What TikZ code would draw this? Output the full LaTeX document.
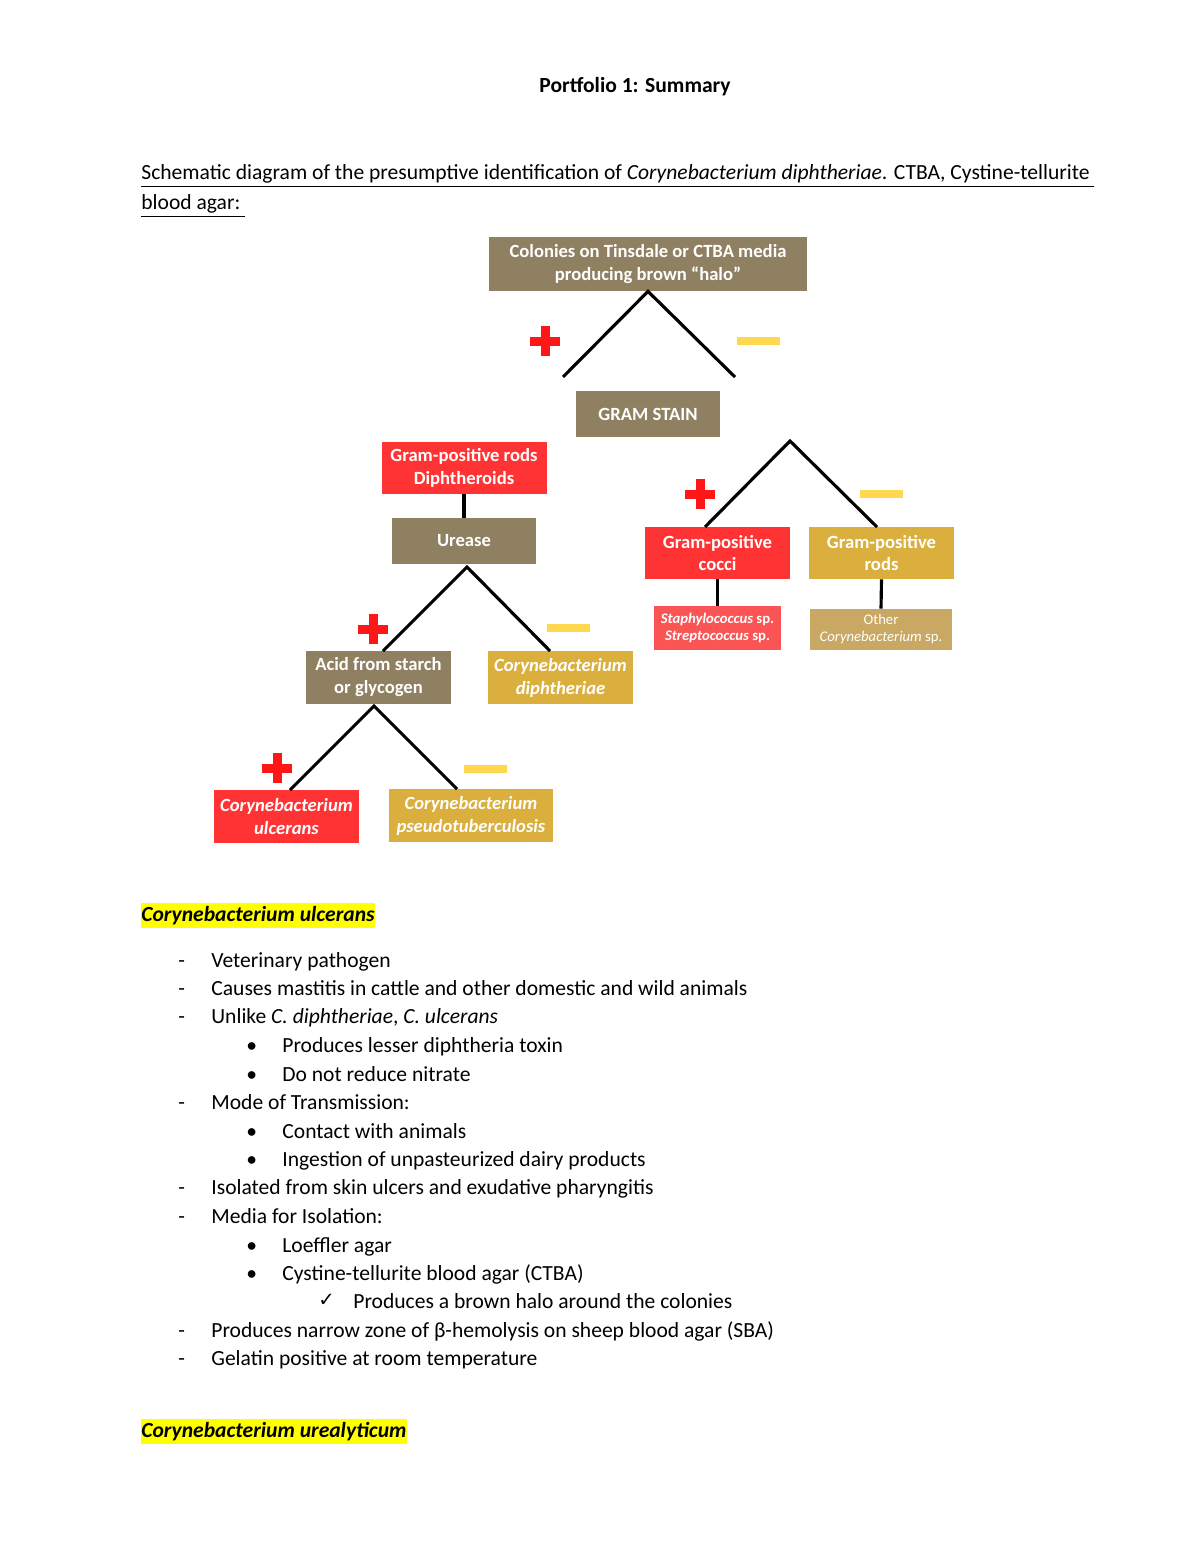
\documentclass[tikz,border=0pt]{standalone}
\usepackage{fontspec}
\setmainfont{Carlito}
\newfontfamily\symfont{DejaVu Sans}
\definecolor{boxbrown}{RGB}{144,128,98}
\definecolor{boxred}{RGB}{255,51,51}
\definecolor{boxgold}{RGB}{218,175,62}
\definecolor{lightred}{RGB}{250,84,84}
\definecolor{lightgold}{RGB}{200,168,98}
\definecolor{plusred}{RGB}{255,22,22}
\definecolor{minusyellow}{RGB}{255,216,80}
\definecolor{hlyellow}{RGB}{255,255,0}
\begin{document}
\begin{tikzpicture}[x=0.51pt,y=-0.51pt,
  box/.style n args={3}{rectangle, fill=#1, text=white, minimum width=#2*0.51pt, minimum height=#3*0.51pt, inner sep=0pt, align=center, font=\fontsize{9.5}{11.7}\selectfont\bfseries},
  smallbox/.style n args={3}{rectangle, fill=#1, text=white, minimum width=#2*0.51pt, minimum height=#3*0.51pt, inner sep=0pt, align=center, font=\fontsize{7.5}{8.7}\selectfont},
  branch/.style={line width=1.6pt, black},
  plusmark/.pic={\fill[plusred] (-15,-4.5) rectangle (15,4.5); \fill[plusred] (-4.5,-15) rectangle (4.5,15);},
  minusmark/.pic={\fill[minusyellow] (-21.5,-4) rectangle (21.5,4);},
  body/.style={anchor=base west, inner sep=0pt, font=\fontsize{11}{13}\selectfont},
  heading/.style={anchor=base west, inner sep=0pt, fill=hlyellow, text height=9pt, text depth=3.75pt, font=\fontsize{11}{13}\selectfont\bfseries\itshape},
]
\fill[white] (0,0) rectangle (1200,1553);
\useasboundingbox (0,0) rectangle (1200,1553);

% ---- header text ----
\node[anchor=base, inner sep=0pt, font=\fontsize{11}{13}\selectfont\bfseries] (title) at (635,93) {Portfolio 1: Summary};
\node[body] (sub1) at (141,180) {\underline{Schematic diagram of the presumptive identification of \textit{Corynebacterium diphtheriae}. CTBA, Cystine-tellurite\ }};
\node[body] (sub2) at (141,210) {\underline{blood agar:\ }};

% ---- boxes ----
\node[box={boxbrown}{318}{54}] (col) at (648,264) {Colonies on Tinsdale or CTBA media\\producing brown “halo”};
\node[box={boxbrown}{144}{46}] (gram) at (648,414) {GRAM STAIN};
\node[box={boxred}{165}{52}] (diph) at (464,468) {Gram-positive rods\\Diphtheroids};
\node[box={boxbrown}{144}{46}] (urease) at (464,541) {Urease};
\node[box={boxred}{145}{52}] (cocci) at (717.5,553) {Gram-positive\\cocci};
\node[box={boxgold}{145}{52}] (rods) at (881.5,553) {Gram-positive\\rods};
\node[smallbox={lightred}{127}{44}, font=\fontsize{7.5}{8.7}\selectfont\bfseries] (staph) at (717.5,628) {\textit{Staphylococcus} sp.\\\textit{Streptococcus} sp.};
\node[smallbox={lightgold}{142}{41}] (other) at (881,629.5) {Other\\\textit{Corynebacterium} sp.};
\node[box={boxbrown}{145}{53}] (acid) at (378.5,677.5) {Acid from starch\\or glycogen};
\node[box={boxgold}{145}{53}] (cdiph) at (560.5,677.5) {\textit{Corynebacterium}\\\textit{diphtheriae}};
\node[box={boxred}{145}{53}] (ulc) at (286.5,816.5) {\textit{Corynebacterium}\\\textit{ulcerans}};
\node[box={boxgold}{164}{53}] (pseudo) at (471,815.5) {\textit{Corynebacterium}\\\textit{pseudotuberculosis}};

% ---- branch points ----
\coordinate (e1l) at (563,377);
\coordinate (e1r) at (735,377);
\coordinate (g2) at (790,441);
\coordinate (e2l) at (705,527);
\coordinate (e2r) at (877,527);
\coordinate (u3) at (467,567);
\coordinate (e3l) at (383,651);
\coordinate (e3r) at (550,651);
\coordinate (a4) at (374,706);
\coordinate (e4l) at (290,790);
\coordinate (e4r) at (457,789);

\draw[branch] (e1l) -- (col.south) -- (e1r);
\draw[branch] (e2l) -- (g2) -- (e2r);
\draw[branch] (diph.south) -- (urease.north);
\draw[branch] (cocci.south) -- (staph.north);
\draw[branch] (rods.south) -- (other.north);
\draw[branch] (e3l) -- (u3) -- (e3r);
\draw[branch] (e4l) -- (a4) -- (e4r);

% ---- signs ----
\pic at (545,341) {plusmark};
\pic at (758,341) {minusmark};
\pic at (700,494) {plusmark};
\pic at (881,494) {minusmark};
\pic at (373,629) {plusmark};
\pic at (568,628) {minusmark};
\pic at (277,768) {plusmark};
\pic at (485,769) {minusmark};

% ---- notes ----
\node[heading] (h1) at (141,921) {Corynebacterium ulcerans};

\node[body] (m1) at (178,967) {-};
\node[body] (t1) at (211,967) {Veterinary pathogen};
\node[body] (m2) at (178,995) {-};
\node[body] (t2) at (211,995) {Causes mastitis in cattle and other domestic and wild animals};
\node[body] (m3) at (178,1023) {-};
\node[body] (t3) at (211,1023) {Unlike \textit{C. diphtheriae}, \textit{C. ulcerans}};
\node[body] (m4) at (246,1052) {\textbullet};
\node[body] (t4) at (282,1052) {Produces lesser diphtheria toxin};
\node[body] (m5) at (246,1081) {\textbullet};
\node[body] (t5) at (282,1081) {Do not reduce nitrate};
\node[body] (m6) at (178,1109) {-};
\node[body] (t6) at (211,1109) {Mode of Transmission:};
\node[body] (m7) at (246,1138) {\textbullet};
\node[body] (t7) at (282,1138) {Contact with animals};
\node[body] (m8) at (246,1166) {\textbullet};
\node[body] (t8) at (282,1166) {Ingestion of unpasteurized dairy products};
\node[body] (m9) at (178,1194) {-};
\node[body] (t9) at (211,1194) {Isolated from skin ulcers and exudative pharyngitis};
\node[body] (m10) at (178,1223) {-};
\node[body] (t10) at (211,1223) {Media for Isolation:};
\node[body] (m11) at (246,1252) {\textbullet};
\node[body] (t11) at (282,1252) {Loeffler agar};
\node[body] (m12) at (246,1280) {\textbullet};
\node[body] (t12) at (282,1280) {Cystine-tellurite blood agar (CTBA)};
\node[body, font=\fontsize{10}{12}\selectfont\symfont] (m13) at (318,1306) {✓};
\node[body] (t13) at (353,1308) {Produces a brown halo around the colonies};
\node[body] (m14) at (178,1337) {-};
\node[body] (t14) at (211,1337) {Produces narrow zone of β-hemolysis on sheep blood agar (SBA)};
\node[body] (m15) at (178,1365) {-};
\node[body] (t15) at (211,1365) {Gelatin positive at room temperature};

\node[heading] (h2) at (141,1437) {Corynebacterium urealyticum};
\end{tikzpicture}
\end{document}
